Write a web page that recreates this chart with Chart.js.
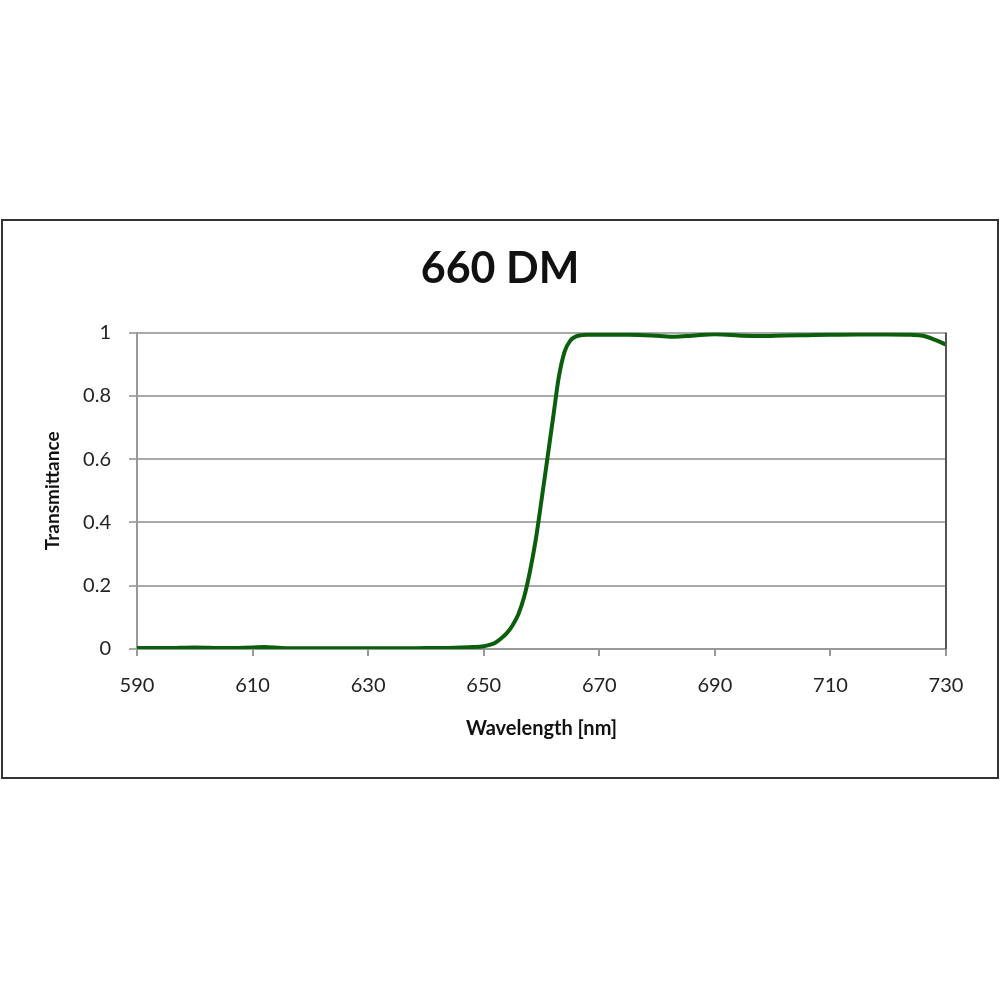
<!DOCTYPE html>
<html lang="en">
  <head>
    <meta charset="UTF-8" />
    <title>660 DM</title>
    <script src="https://cdn.jsdelivr.net/npm/chart.js"></script>
    <style>
      body { margin: 0; background: #fff; }
      #frame {
        position: absolute; left: 1px; top: 219px;
        width: 994px; height: 556px;
        border: 2px solid #333; background: #fff;
      }
    </style>
  </head>
  <body>
    <div id="frame"><canvas id="filterChart" width="994" height="556"></canvas></div>

    <script>
      const chartTitle = "660 DM";
      const xTitle = "Wavelength [nm]";
      const yTitle = "Transmittance";

      const wavelengths = [590, 595, 600, 605, 610, 612, 615, 620, 625, 630, 635, 640, 645, 648,
        650, 651, 652, 653, 654, 655, 656, 657, 658, 659, 660, 661, 662, 663, 664, 665, 666, 667, 668,
        670, 675, 680, 683, 686, 690, 695, 698, 702, 706, 710, 715, 720, 724, 726, 728, 730];
      const transmittance = [0.003, 0.003, 0.005, 0.003, 0.005, 0.006, 0.003, 0.002, 0.002, 0.002, 0.002, 0.003, 0.004, 0.006,
        0.009, 0.013, 0.02, 0.033, 0.05, 0.075, 0.11, 0.165, 0.245, 0.345, 0.47, 0.6, 0.73, 0.86, 0.94, 0.975, 0.988, 0.992, 0.993,
        0.993, 0.993, 0.99, 0.987, 0.99, 0.995, 0.99, 0.989, 0.991, 0.992, 0.993, 0.994, 0.994, 0.993, 0.99, 0.978, 0.962];

      const FONT = "Lato, 'Open Sans', sans-serif";

      // right-hand frame line of the plot area
      const plotFrame = {
        id: "plotFrame",
        afterDraw(chart) {
          const { ctx, chartArea: a } = chart;
          ctx.save();
          ctx.strokeStyle = "#555";
          ctx.lineWidth = 2;
          ctx.beginPath();
          ctx.moveTo(a.right, a.top);
          ctx.lineTo(a.right, a.bottom);
          ctx.stroke();
          ctx.restore();
        }
      };

      const ctx = document.getElementById("filterChart").getContext("2d");
      new Chart(ctx, {
        type: "line",
        data: {
          datasets: [{
            data: wavelengths.map((w, i) => ({ x: w, y: transmittance[i] })),
            borderColor: "#0b5e0b",
            borderWidth: 4,
            pointRadius: 0,
            cubicInterpolationMode: "monotone",
            fill: false
          }]
        },
        options: {
          responsive: false,
          animation: false,
          layout: { padding: { left: 0, right: 0, top: 0, bottom: 36 } },
          plugins: {
            legend: { display: false },
            tooltip: { enabled: false },
            title: {
              display: true,
              text: chartTitle,
              color: "#111",
              font: { family: FONT, size: 43, weight: "bold", lineHeight: 1.2 },
              padding: { top: 22, bottom: 38 }
            }
          },
          scales: {
            x: {
              type: "linear",
              min: 590, max: 730,
              afterFit: s => { s.height = 92; },
              ticks: { stepSize: 20, color: "#222", padding: 18, font: { family: FONT, size: 20 } },
              grid: { drawOnChartArea: false, drawTicks: true, tickLength: 7, color: "#999", lineWidth: 2 },
              border: { color: "#999", width: 2 },
              title: {
                display: true, text: xTitle, color: "#111",
                font: { family: FONT, size: 20, weight: "bold", lineHeight: 1.2 },
                padding: { top: 0, bottom: 0 }
              }
            },
            y: {
              min: 0, max: 1,
              afterFit: s => { s.width = 134; },
              ticks: {
                stepSize: 0.2, color: "#222", padding: 18, font: { family: FONT, size: 20 },
                callback: v => String(+v.toFixed(1))
              },
              grid: { color: "#aaa", lineWidth: 2, drawTicks: true, tickLength: 8 },
              border: { color: "#999", width: 2 },
              title: {
                display: true, text: yTitle, color: "#111",
                font: { family: FONT, size: 19, weight: "bold", lineHeight: 1.2 },
                padding: { top: 38, bottom: 0 }
              }
            },
            // empty right-hand axis that only reserves the margin, so the title stays centred
            yRight: {
              position: "right",
              min: 0, max: 1,
              afterFit: s => { s.width = 51; },
              ticks: { display: false },
              grid: { display: false },
              border: { display: false }
            }
          }
        },
        plugins: [plotFrame]
      });
    </script>
  </body>
</html>
